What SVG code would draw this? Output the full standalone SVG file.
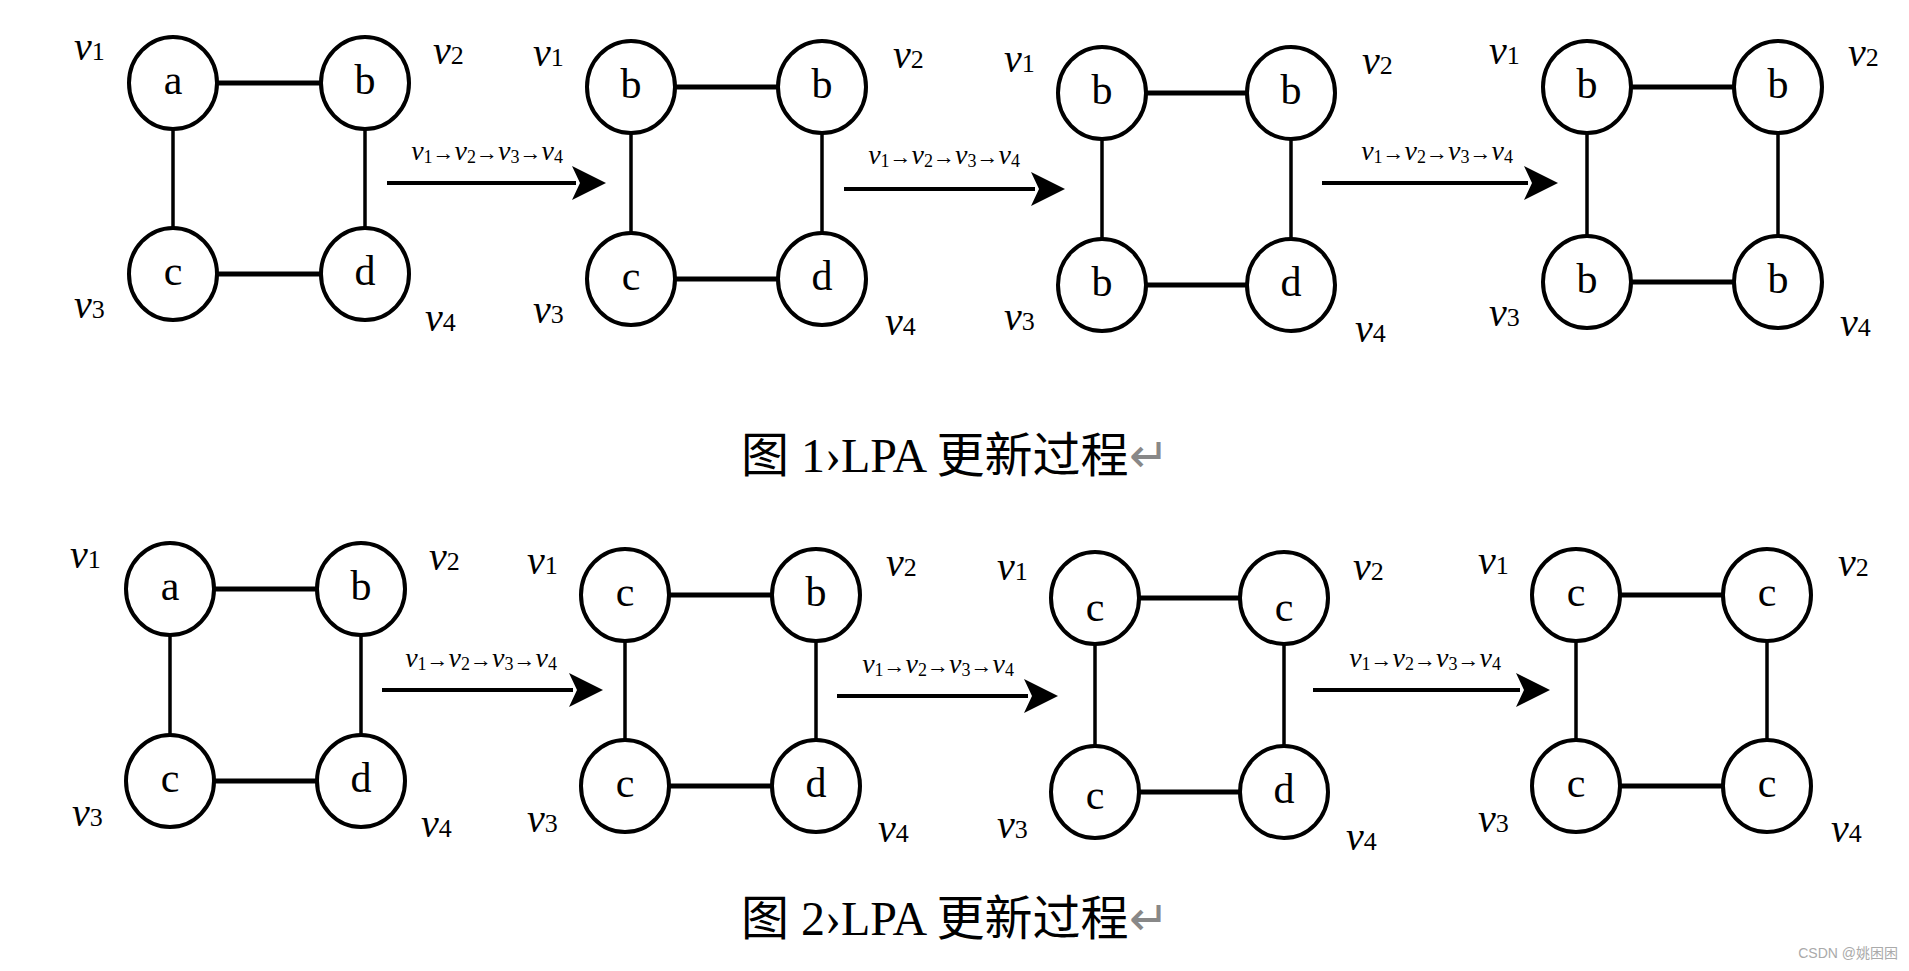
<svg xmlns="http://www.w3.org/2000/svg" width="1909" height="971" viewBox="0 0 1909 971">
<style>
.n{fill:#fff;stroke:#000;stroke-width:4}
.t{font-family:"Liberation Serif",serif;font-size:42px;text-anchor:middle;dominant-baseline:central}
.h{stroke:#000;stroke-width:5}
.v{stroke:#000;stroke-width:3.5}
.a{stroke:#000;stroke-width:4}
.lb{font-family:"Liberation Serif",serif;font-size:40px;font-style:italic}
.lb tspan{font-style:normal;font-size:26px}
.seq{font-family:"Liberation Serif",serif;font-size:28px;font-style:italic;text-anchor:middle}
.seq .s{font-style:normal;font-size:18px}
.seq .r{font-style:normal;font-size:22px;font-weight:bold}
.cap{font-family:"Liberation Serif","Noto Sans CJK SC",serif;font-size:48px}
</style>
<defs>
<marker id="big" markerWidth="34" markerHeight="34" refX="4" refY="17" orient="auto" markerUnits="userSpaceOnUse" viewBox="0 0 34 34"><path d="M0,0 L34,17 L0,34 L8,17 Z"/></marker>
</defs>
<g id="connectors">
<line class="h" x1="171" y1="83" x2="365" y2="83"/><line class="h" x1="174" y1="274" x2="365" y2="274"/><line class="v" x1="173" y1="83" x2="173" y2="274"/><line class="v" x1="365" y1="83" x2="365" y2="274"/>
<line class="h" x1="631" y1="87" x2="822" y2="87"/><line class="h" x1="631" y1="279" x2="822" y2="279"/><line class="v" x1="631" y1="87" x2="631" y2="279"/><line class="v" x1="822" y1="87" x2="822" y2="279"/>
<line class="h" x1="1102" y1="93" x2="1291" y2="93"/><line class="h" x1="1102" y1="285" x2="1291" y2="285"/><line class="v" x1="1102" y1="93" x2="1102" y2="285"/><line class="v" x1="1291" y1="93" x2="1291" y2="285"/>
<line class="h" x1="1587" y1="87" x2="1778" y2="87"/><line class="h" x1="1587" y1="282" x2="1778" y2="282"/><line class="v" x1="1587" y1="87" x2="1587" y2="282"/><line class="v" x1="1778" y1="87" x2="1778" y2="282"/>
<line class="h" x1="168" y1="589" x2="361" y2="589"/><line class="h" x1="171" y1="781" x2="361" y2="781"/><line class="v" x1="170" y1="589" x2="170" y2="781"/><line class="v" x1="361" y1="589" x2="361" y2="781"/>
<line class="h" x1="625" y1="595" x2="816" y2="595"/><line class="h" x1="625" y1="786" x2="816" y2="786"/><line class="v" x1="625" y1="595" x2="625" y2="786"/><line class="v" x1="816" y1="595" x2="816" y2="786"/>
<line class="h" x1="1095" y1="598" x2="1284" y2="598"/><line class="h" x1="1095" y1="792" x2="1284" y2="792"/><line class="v" x1="1095" y1="598" x2="1095" y2="792"/><line class="v" x1="1284" y1="598" x2="1284" y2="792"/>
<line class="h" x1="1576" y1="595" x2="1767" y2="595"/><line class="h" x1="1576" y1="786" x2="1767" y2="786"/><line class="v" x1="1576" y1="595" x2="1576" y2="786"/><line class="v" x1="1767" y1="595" x2="1767" y2="786"/>
<line class="a" x1="387" y1="183" x2="576" y2="183" marker-end="url(#big)"/>
<line class="a" x1="844" y1="189" x2="1035" y2="189" marker-end="url(#big)"/>
<line class="a" x1="1322" y1="183" x2="1528" y2="183" marker-end="url(#big)"/>
<line class="a" x1="382" y1="690" x2="573" y2="690" marker-end="url(#big)"/>
<line class="a" x1="837" y1="696" x2="1028" y2="696" marker-end="url(#big)"/>
<line class="a" x1="1313" y1="690" x2="1520" y2="690" marker-end="url(#big)"/>
</g>
<g id="sequence-labels">
<text class="seq" x="487" y="160">v<tspan class="s" dy="3">1</tspan><tspan class="r" dy="-3">→</tspan>v<tspan class="s" dy="3">2</tspan><tspan class="r" dy="-3">→</tspan>v<tspan class="s" dy="3">3</tspan><tspan class="r" dy="-3">→</tspan>v<tspan class="s" dy="3">4</tspan></text>
<text class="seq" x="944" y="164">v<tspan class="s" dy="3">1</tspan><tspan class="r" dy="-3">→</tspan>v<tspan class="s" dy="3">2</tspan><tspan class="r" dy="-3">→</tspan>v<tspan class="s" dy="3">3</tspan><tspan class="r" dy="-3">→</tspan>v<tspan class="s" dy="3">4</tspan></text>
<text class="seq" x="1437" y="160">v<tspan class="s" dy="3">1</tspan><tspan class="r" dy="-3">→</tspan>v<tspan class="s" dy="3">2</tspan><tspan class="r" dy="-3">→</tspan>v<tspan class="s" dy="3">3</tspan><tspan class="r" dy="-3">→</tspan>v<tspan class="s" dy="3">4</tspan></text>
<text class="seq" x="481" y="667">v<tspan class="s" dy="3">1</tspan><tspan class="r" dy="-3">→</tspan>v<tspan class="s" dy="3">2</tspan><tspan class="r" dy="-3">→</tspan>v<tspan class="s" dy="3">3</tspan><tspan class="r" dy="-3">→</tspan>v<tspan class="s" dy="3">4</tspan></text>
<text class="seq" x="938" y="673">v<tspan class="s" dy="3">1</tspan><tspan class="r" dy="-3">→</tspan>v<tspan class="s" dy="3">2</tspan><tspan class="r" dy="-3">→</tspan>v<tspan class="s" dy="3">3</tspan><tspan class="r" dy="-3">→</tspan>v<tspan class="s" dy="3">4</tspan></text>
<text class="seq" x="1425" y="667">v<tspan class="s" dy="3">1</tspan><tspan class="r" dy="-3">→</tspan>v<tspan class="s" dy="3">2</tspan><tspan class="r" dy="-3">→</tspan>v<tspan class="s" dy="3">3</tspan><tspan class="r" dy="-3">→</tspan>v<tspan class="s" dy="3">4</tspan></text>
</g>
<g id="r1p1a"><ellipse class="n" cx="173" cy="83" rx="44" ry="46"/><text class="t" x="173" y="80">a</text></g>
<g id="r1p1b"><ellipse class="n" cx="365" cy="83" rx="44" ry="46"/><text class="t" x="365" y="80">b</text></g>
<g id="r1p1c"><ellipse class="n" cx="173" cy="274" rx="44" ry="46"/><text class="t" x="173" y="271">c</text></g>
<g id="r1p1d"><ellipse class="n" cx="365" cy="274" rx="44" ry="46"/><text class="t" x="365" y="271">d</text></g>
<g id="r1p2a"><ellipse class="n" cx="631" cy="87" rx="44" ry="46"/><text class="t" x="631" y="84">b</text></g>
<g id="r1p2b"><ellipse class="n" cx="822" cy="87" rx="44" ry="46"/><text class="t" x="822" y="84">b</text></g>
<g id="r1p2c"><ellipse class="n" cx="631" cy="279" rx="44" ry="46"/><text class="t" x="631" y="276">c</text></g>
<g id="r1p2d"><ellipse class="n" cx="822" cy="279" rx="44" ry="46"/><text class="t" x="822" y="276">d</text></g>
<g id="r1p3a"><ellipse class="n" cx="1102" cy="93" rx="44" ry="46"/><text class="t" x="1102" y="90">b</text></g>
<g id="r1p3b"><ellipse class="n" cx="1291" cy="93" rx="44" ry="46"/><text class="t" x="1291" y="90">b</text></g>
<g id="r1p3c"><ellipse class="n" cx="1102" cy="285" rx="44" ry="46"/><text class="t" x="1102" y="282">b</text></g>
<g id="r1p3d"><ellipse class="n" cx="1291" cy="285" rx="44" ry="46"/><text class="t" x="1291" y="282">d</text></g>
<g id="r1p4a"><ellipse class="n" cx="1587" cy="87" rx="44" ry="46"/><text class="t" x="1587" y="84">b</text></g>
<g id="r1p4b"><ellipse class="n" cx="1778" cy="87" rx="44" ry="46"/><text class="t" x="1778" y="84">b</text></g>
<g id="r1p4c"><ellipse class="n" cx="1587" cy="282" rx="44" ry="46"/><text class="t" x="1587" y="279">b</text></g>
<g id="r1p4d"><ellipse class="n" cx="1778" cy="282" rx="44" ry="46"/><text class="t" x="1778" y="279">b</text></g>
<g id="r2p1a"><ellipse class="n" cx="170" cy="589" rx="44" ry="46"/><text class="t" x="170" y="586">a</text></g>
<g id="r2p1b"><ellipse class="n" cx="361" cy="589" rx="44" ry="46"/><text class="t" x="361" y="586">b</text></g>
<g id="r2p1c"><ellipse class="n" cx="170" cy="781" rx="44" ry="46"/><text class="t" x="170" y="778">c</text></g>
<g id="r2p1d"><ellipse class="n" cx="361" cy="781" rx="44" ry="46"/><text class="t" x="361" y="778">d</text></g>
<g id="r2p2a"><ellipse class="n" cx="625" cy="595" rx="44" ry="46"/><text class="t" x="625" y="592">c</text></g>
<g id="r2p2b"><ellipse class="n" cx="816" cy="595" rx="44" ry="46"/><text class="t" x="816" y="592">b</text></g>
<g id="r2p2c"><ellipse class="n" cx="625" cy="786" rx="44" ry="46"/><text class="t" x="625" y="783">c</text></g>
<g id="r2p2d"><ellipse class="n" cx="816" cy="786" rx="44" ry="46"/><text class="t" x="816" y="783">d</text></g>
<g id="r2p3a"><ellipse class="n" cx="1095" cy="598" rx="44" ry="46"/><text class="t" x="1095" y="607">c</text></g>
<g id="r2p3b"><ellipse class="n" cx="1284" cy="598" rx="44" ry="46"/><text class="t" x="1284" y="607">c</text></g>
<g id="r2p3c"><ellipse class="n" cx="1095" cy="792" rx="44" ry="46"/><text class="t" x="1095" y="795">c</text></g>
<g id="r2p3d"><ellipse class="n" cx="1284" cy="792" rx="44" ry="46"/><text class="t" x="1284" y="789">d</text></g>
<g id="r2p4a"><ellipse class="n" cx="1576" cy="595" rx="44" ry="46"/><text class="t" x="1576" y="592">c</text></g>
<g id="r2p4b"><ellipse class="n" cx="1767" cy="595" rx="44" ry="46"/><text class="t" x="1767" y="592">c</text></g>
<g id="r2p4c"><ellipse class="n" cx="1576" cy="786" rx="44" ry="46"/><text class="t" x="1576" y="783">c</text></g>
<g id="r2p4d"><ellipse class="n" cx="1767" cy="786" rx="44" ry="46"/><text class="t" x="1767" y="783">c</text></g>
<g id="vertex-labels">
<text class="lb" x="74" y="60">v<tspan>1</tspan></text><text class="lb" x="433" y="64">v<tspan>2</tspan></text><text class="lb" x="74" y="318">v<tspan>3</tspan></text><text class="lb" x="425" y="331">v<tspan>4</tspan></text>
<text class="lb" x="533" y="66">v<tspan>1</tspan></text><text class="lb" x="893" y="68">v<tspan>2</tspan></text><text class="lb" x="533" y="323">v<tspan>3</tspan></text><text class="lb" x="885" y="335">v<tspan>4</tspan></text>
<text class="lb" x="1004" y="72">v<tspan>1</tspan></text><text class="lb" x="1362" y="74">v<tspan>2</tspan></text><text class="lb" x="1004" y="330">v<tspan>3</tspan></text><text class="lb" x="1355" y="342">v<tspan>4</tspan></text>
<text class="lb" x="1489" y="64">v<tspan>1</tspan></text><text class="lb" x="1848" y="66">v<tspan>2</tspan></text><text class="lb" x="1489" y="326">v<tspan>3</tspan></text><text class="lb" x="1840" y="336">v<tspan>4</tspan></text>
<text class="lb" x="70" y="568">v<tspan>1</tspan></text><text class="lb" x="429" y="570">v<tspan>2</tspan></text><text class="lb" x="72" y="826">v<tspan>3</tspan></text><text class="lb" x="421" y="837">v<tspan>4</tspan></text>
<text class="lb" x="527" y="574">v<tspan>1</tspan></text><text class="lb" x="886" y="576">v<tspan>2</tspan></text><text class="lb" x="527" y="832">v<tspan>3</tspan></text><text class="lb" x="878" y="842">v<tspan>4</tspan></text>
<text class="lb" x="997" y="580">v<tspan>1</tspan></text><text class="lb" x="1353" y="580">v<tspan>2</tspan></text><text class="lb" x="997" y="838">v<tspan>3</tspan></text><text class="lb" x="1346" y="850">v<tspan>4</tspan></text>
<text class="lb" x="1478" y="574">v<tspan>1</tspan></text><text class="lb" x="1838" y="576">v<tspan>2</tspan></text><text class="lb" x="1478" y="832">v<tspan>3</tspan></text><text class="lb" x="1831" y="842">v<tspan>4</tspan></text>
</g>
<g id="captions">
<text class="cap" x="741" y="472">图 1›LPA 更新过程<tspan fill="#888">↵</tspan></text>
<text class="cap" x="741" y="935">图 2›LPA 更新过程<tspan fill="#888">↵</tspan></text>
<text x="1898" y="958" text-anchor="end" font-family="Liberation Sans,Noto Sans CJK SC,sans-serif" font-size="14" fill="#aaa">CSDN @姚困困</text>
</g>
</svg>
